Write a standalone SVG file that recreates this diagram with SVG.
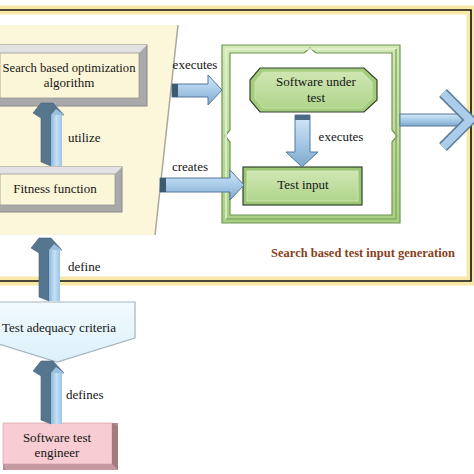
<svg xmlns="http://www.w3.org/2000/svg" width="474" height="474" viewBox="0 0 474 474">
<defs>
<style>
.t{font-family:"Liberation Serif","Times New Roman",serif;font-size:13px;fill:#151515;text-anchor:middle}
.l{font-family:"Liberation Serif","Times New Roman",serif;font-size:13px;fill:#151515}
.cap{font-family:"Liberation Serif","Times New Roman",serif;font-size:12.5px;font-weight:bold;fill:#8a3f1c;text-anchor:middle}
.glow{stroke:#f4e08a;stroke-width:9;fill:none;opacity:.75}
.blk{stroke:#111;stroke-width:1.6;fill:none}
.harr{fill:url(#hb);stroke:#55789a;stroke-width:1}
</style>
<linearGradient id="hb" x1="0" y1="0" x2="0" y2="1"><stop offset="0" stop-color="#d3e8f8"/><stop offset="0.5" stop-color="#a9cbe8"/><stop offset="1" stop-color="#7fa8cc"/></linearGradient>
<linearGradient id="vb" x1="0" y1="0" x2="1" y2="0"><stop offset="0" stop-color="#8fb8dc"/><stop offset="0.5" stop-color="#c3e0f5"/><stop offset="1" stop-color="#9fc4e4"/></linearGradient>
<linearGradient id="gf" x1="0" y1="0" x2="0" y2="1"><stop offset="0" stop-color="#d2e9b6"/><stop offset="1" stop-color="#a9cf84"/></linearGradient>
<linearGradient id="gi" x1="0" y1="0" x2="0" y2="1"><stop offset="0" stop-color="#cfe7b3"/><stop offset="1" stop-color="#b0d58c"/></linearGradient>
<linearGradient id="fb" x1="0" y1="0" x2="0" y2="1"><stop offset="0" stop-color="#f2fafe"/><stop offset="1" stop-color="#dcf0fa"/></linearGradient>
<g id="up3d">
<polygon points="0,11 8,1 20,1 31,13 18,13 18,64 8,60 8,16" fill="#56758f" stroke="#46637b" stroke-width="0.6"/>
<rect x="18" y="13" width="11" height="51" fill="url(#vb)"/>
<polygon points="18,13 23,7 31,13" fill="#9cc1e0"/>
</g>
</defs>
<rect width="474" height="474" fill="#fff"/>

<g id="frame">
<path class="glow" d="M-5,10 H471 V281 H-5"/>
<path class="blk" d="M-5,10 H471 V281 H-5"/>
</g>

<g id="optimizer-region">
<polygon points="-10,25 178,25 155,235 -10,235" fill="#fcf7da"/>
<line x1="178" y1="25" x2="155" y2="235" stroke="#a8a89a" stroke-width="1.5"/>
</g>

<g id="algorithm">
<rect x="-5" y="45" width="152" height="61" fill="#a9a9a9" stroke="#8a8a8a"/>
<polygon points="-5,45 147,45 139,53 0,53 0,98 -5,106" fill="#e2e2e2"/>
<rect x="0" y="53" width="139" height="45" fill="#fcf6d8" stroke="#9a9a9a" stroke-width="0.8"/>
<text class="t" x="69" y="72" style="font-size:12.6px">Search based optimization</text>
<text class="t" x="69" y="87">algorithm</text>
</g>

<g id="fitness">
<rect x="-5" y="167" width="127" height="45" fill="#a9a9a9" stroke="#8a8a8a"/>
<polygon points="-5,167 122,167 115,174 0,174 0,205 -5,212" fill="#e2e2e2"/>
<rect x="0" y="174" width="115" height="31" fill="#fcf6d8" stroke="#9a9a9a" stroke-width="0.8"/>
<text class="t" x="55" y="193">Fitness function</text>
</g>

<g id="green-frame">
<path d="M222,45 H400 V223 H222 Z M230,53 V130 L225,136 L230,142 V215 H392 V142 L397,136 L392,130 V53 H316 L310,48 L304,53 Z" fill="url(#gf)" fill-rule="evenodd" stroke="#6e9650" stroke-width="1.2"/>
<path d="M226,219 V49 H396" fill="none" stroke="#e4f2d2" stroke-width="1.5"/>
<path d="M396,49 V219 H226" fill="none" stroke="#86ad63" stroke-width="1.5"/>
</g>

<g id="software-under-test">
<polygon points="260,68 364,68 377,80 377,100 364,112 260,112 250,100 250,80" fill="#a5cd7e" stroke="#33432c" stroke-width="1.2"/>
<polygon points="263,72 362,72 372,82 372,98 362,108 263,108 255,98 255,82" fill="url(#gi)" stroke="#c9e3ae" stroke-width="0.8"/>
<text class="t" x="316" y="86">Software under</text>
<text class="t" x="316" y="102">test</text>
</g>

<g id="test-input">
<rect x="243" y="167" width="119" height="38" fill="#9cc675" stroke="#33432c" stroke-width="1.2"/>
<rect x="247" y="171" width="111" height="30" fill="url(#gi)" stroke="#d2e8bb" stroke-width="0.8"/>
<text class="t" x="303" y="189">Test input</text>
</g>

<g id="test-adequacy">
<polygon points="-21,302 135,302 135,338 57,362 -21,338" fill="url(#fb)" stroke="#a6b4bd" stroke-width="1.2"/>
<text class="t" x="59" y="332">Test adequacy criteria</text>
</g>

<g id="engineer">
<rect x="3" y="423" width="115" height="47" fill="#b5898f"/>
<polygon points="3,423 112,423 112,464 3,464" fill="#f7ccd2" stroke="#d9a9b0" stroke-width="0.8"/>
<polygon points="112,423 118,427 118,470 112,464" fill="#a27a80"/>
<polygon points="3,464 112,464 118,470 6,470" fill="#c49aa0"/>
<text class="t" x="57" y="442">Software test</text>
<text class="t" x="57" y="457">engineer</text>
</g>

<g id="connectors">
<use href="#up3d" x="33" y="102"/>
<use href="#up3d" x="31" y="237"/>
<use href="#up3d" x="33" y="360"/>
<polygon class="harr" points="172,84 208,84 208,75 222,90 208,105 208,97 172,97"/>
<rect x="172" y="84" width="6" height="13" fill="#3e5a72"/>
<polygon class="harr" points="160,178 230,178 230,170 244,185 230,200 230,192 160,192"/>
<rect x="160" y="178" width="6" height="14" fill="#3e5a72"/>
<polygon class="harr" points="295,115 310,115 310,152 318,152 302,167 286,152 295,152"/>
<rect x="295" y="115" width="15" height="5" fill="#4d6a84"/>
<rect x="400" y="114" width="66" height="12" class="harr"/>
<polyline points="443,93 470,120 443,147" fill="none" stroke="#5b7d9b" stroke-width="11" stroke-linejoin="miter"/>
<polyline points="443,93 470,120 443,147" fill="none" stroke="#abcde9" stroke-width="8" stroke-linejoin="miter"/>
</g>

<g id="labels">
<text class="t" x="195" y="69">executes</text>
<text class="t" x="190" y="171">creates</text>
<text class="t" x="341" y="141">executes</text>
<text class="l" x="68" y="142">utilize</text>
<text class="l" x="68" y="271">define</text>
<text class="l" x="66" y="399">defines</text>
<text class="cap" x="363" y="257">Search based test input generation</text>
</g>
</svg>
